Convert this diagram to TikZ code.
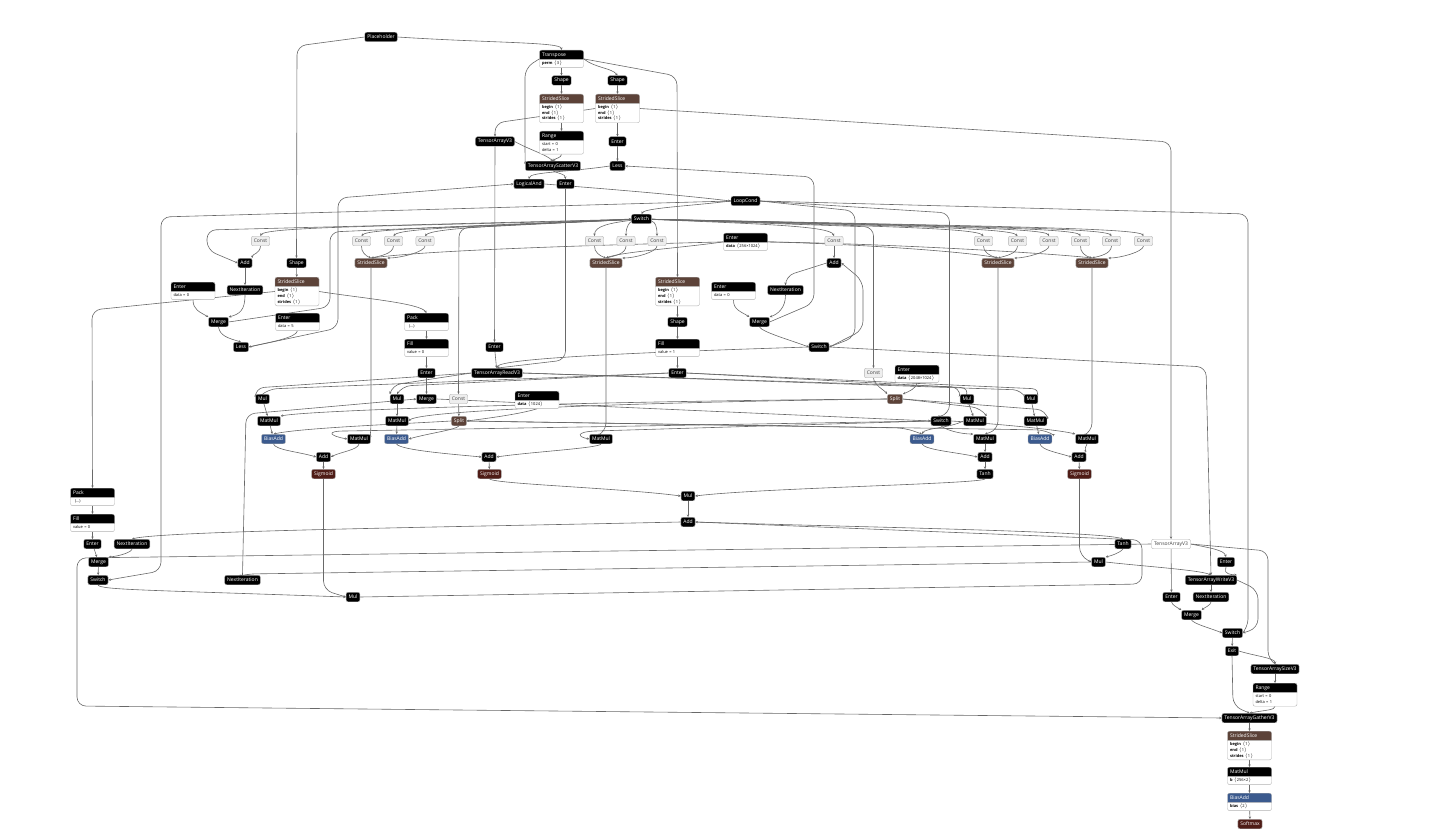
\documentclass[tikz,border=0pt]{standalone}
\usepackage{fontspec}
\setmainfont{Open Sans}
\usepackage{tikz}
\usetikzlibrary{shapes.multipart, arrows.meta, backgrounds}
\definecolor{mybrown}{RGB}{92,66,56}
\definecolor{myred}{RGB}{79,28,22}
\definecolor{myblue}{RGB}{59,90,142}
\definecolor{myconst}{RGB}{238,238,238}
\definecolor{myline}{RGB}{105,105,105}
\tikzstyle{opnode}=[draw=gray!60, line width=0.4pt, rounded corners=2pt, fill=black, text=white, font=\fontsize{5}{5}\selectfont, minimum height=9.5pt, inner xsep=2.5pt, inner ysep=0pt]
\tikzstyle{ssnode}=[opnode, fill=mybrown]
\tikzstyle{sgnode}=[opnode, fill=myred]
\tikzstyle{banode}=[opnode, fill=myblue]
\tikzstyle{constnode}=[opnode, fill=myconst, text=black!75]
\tikzstyle{tanode}=[opnode, fill=white, text=black!75]
\tikzstyle{optable}=[draw=gray!60, line width=0.4pt, rounded corners=2pt, rectangle split, rectangle split parts=2, rectangle split part fill={black,white}, anchor=north, text width=39pt, inner xsep=2.5pt, inner ysep=1pt, align=left, text=black, font=\fontsize{4}{5.6}\selectfont]
\tikzstyle{ssbox}=[optable, rectangle split part fill={mybrown,white}]
\tikzstyle{babox}=[optable, rectangle split part fill={myblue,white}]
\tikzstyle{edge}=[draw=myline, line width=0.6pt, -{Stealth[length=2.6pt,width=2.4pt]}]
\tikzstyle{route}=[edge, rounded corners=9pt]
\newcommand{\headtext}[1]{\textcolor{white}{\fontsize{5}{5}\selectfont\rule[-2pt]{0pt}{7pt}#1}}
\newcommand{\bodyline}[1]{\rule[-1.6pt]{0pt}{5.6pt}#1}
\newcommand{\keyval}[2]{\bodyline{\textbf{#1} $\scriptscriptstyle\langle$#2$\scriptscriptstyle\rangle$}}
\newcommand{\sliceattrs}{\keyval{begin}{1}\\\keyval{end}{1}\\\keyval{strides}{1}}
\begin{document}
\begin{tikzpicture}[x=1pt, y=-1pt]
\useasboundingbox (0, 0) rectangle (1439, 834);
\draw (381, 37) node [opnode] (ph) {Placeholder};
\draw (561.5, 50) node [optable] (tr) {\headtext{Transpose}\nodepart{two}\keyval{perm}{3}};
\draw (561.5, 80.5) node [opnode] (sh1) {Shape};
\draw (617.5, 80.5) node [opnode] (sh2) {Shape};
\draw (561.5, 94) node [ssbox] (ss1) {\headtext{StridedSlice}\nodepart{two}\sliceattrs};
\draw (617.5, 94) node [ssbox] (ss2) {\headtext{StridedSlice}\nodepart{two}\sliceattrs};
\draw (561.5, 131) node [optable] (rg1) {\headtext{Range}\nodepart{two}\bodyline{start = 0}\\\bodyline{delta = 1}};
\draw (617.5, 141.5) node [opnode] (en1) {Enter};
\draw (495, 141.5) node [opnode] (tav1) {TensorArrayV3};
\draw (553, 166) node [opnode] (tas) {TensorArrayScatterV3};
\draw (617.5, 166) node [opnode] (le1) {Less};
\draw (529, 184) node [opnode] (la) {LogicalAnd};
\draw (565.5, 184) node [opnode] (en2) {Enter};
\draw (745.5, 201) node [opnode] (lc) {LoopCond};
\draw (641.5, 219) node [opnode] (sw1) {Switch};
\draw (260.5, 241) node [constnode] (co1) {Const};
\draw (245, 263) node [opnode] (ad1) {Add};
\draw (296.5, 263) node [opnode] (sh3) {Shape};
\draw (297, 277) node [ssbox] (ss3) {\headtext{StridedSlice}\nodepart{two}\sliceattrs};
\draw (193, 282) node [optable] (en3) {\headtext{Enter}\nodepart{two}\bodyline{data = 0}};
\draw (245, 290) node [opnode] (ni1) {NextIteration};
\draw (218.5, 322) node [opnode] (mg1) {Merge};
\draw (297.5, 313) node [optable] (en4) {\headtext{Enter}\nodepart{two}\bodyline{data = 5}};
\draw (241, 347) node [opnode] (le2) {Less};
\draw (426.5, 313) node [optable] (pk1) {\headtext{Pack}\nodepart{two}\bodyline{\hspace{2pt}(...)}};
\draw (426.5, 339) node [optable] (fl1) {\headtext{Fill}\nodepart{two}\bodyline{value = 0}};
\draw (426.5, 373) node [opnode] (en5) {Enter};
\draw (494.5, 347) node [opnode] (en6) {Enter};
\draw (497, 373) node [opnode] (tar) {TensorArrayReadV3};
\draw (361.5, 241) node [constnode] (co2) {Const};
\draw (393.5, 241) node [constnode] (co3) {Const};
\draw (425, 241) node [constnode] (co4) {Const};
\draw (371, 263) node [ssnode] (sb1) {StridedSlice};
\draw (262.5, 399) node [opnode] (mu1) {Mul};
\draw (397, 399) node [opnode] (mu2) {Mul};
\draw (426.5, 399) node [opnode] (mg2) {Merge};
\draw (458.5, 399) node [constnode] (co5) {Const};
\draw (269, 421) node [opnode] (mm1) {MatMul};
\draw (397, 421) node [opnode] (mm2) {MatMul};
\draw (459, 421) node [ssnode] (sp1) {Split};
\draw (537, 391) node [optable] (en7) {\headtext{Enter}\nodepart{two}\keyval{data}{1024}};
\draw (273.5, 439) node [banode] (ba1) {BiasAdd};
\draw (359, 439) node [opnode] (mm3) {MatMul};
\draw (396.5, 439) node [banode] (ba2) {BiasAdd};
\draw (323.5, 457) node [opnode] (ad2) {Add};
\draw (489, 457) node [opnode] (ad3) {Add};
\draw (323.5, 474) node [sgnode] (sg1) {Sigmoid};
\draw (489.5, 474) node [sgnode] (sg2) {Sigmoid};
\draw (594.5, 241) node [constnode] (co6) {Const};
\draw (626, 241) node [constnode] (co7) {Const};
\draw (657, 241) node [constnode] (co8) {Const};
\draw (606, 263) node [ssnode] (sb2) {StridedSlice};
\draw (745.5, 233) node [optable] (en8) {\headtext{Enter}\nodepart{two}\keyval{data}{256×1024}};
\draw (834, 241) node [constnode] (co9) {Const};
\draw (834, 263) node [opnode] (ad4) {Add};
\draw (677.5, 277) node [ssbox] (ss4) {\headtext{StridedSlice}\nodepart{two}\sliceattrs};
\draw (733.5, 282) node [optable] (en9) {\headtext{Enter}\nodepart{two}\bodyline{data = 0}};
\draw (785.5, 290) node [opnode] (ni2) {NextIteration};
\draw (759.5, 322) node [opnode] (mg3) {Merge};
\draw (677.5, 322) node [opnode] (sh4) {Shape};
\draw (677.5, 339) node [optable] (fl2) {\headtext{Fill}\nodepart{two}\bodyline{value = 1}};
\draw (819, 347) node [opnode] (sw2) {Switch};
\draw (677.5, 373) node [opnode] (en10) {Enter};
\draw (983.5, 241) node [constnode] (co10) {Const};
\draw (1017.5, 241) node [constnode] (co11) {Const};
\draw (1049, 241) node [constnode] (co12) {Const};
\draw (1080.5, 241) node [constnode] (co13) {Const};
\draw (1111.5, 241) node [constnode] (co14) {Const};
\draw (1143.5, 241) node [constnode] (co15) {Const};
\draw (998, 263) node [ssnode] (sb3) {StridedSlice};
\draw (1092, 263) node [ssnode] (sb4) {StridedSlice};
\draw (873.5, 373) node [constnode] (co16) {Const};
\draw (917, 365) node [optable] (en11) {\headtext{Enter}\nodepart{two}\keyval{data}{2048×1024}};
\draw (895, 399) node [ssnode] (sp2) {Split};
\draw (967, 399) node [opnode] (mu3) {Mul};
\draw (1031, 399) node [opnode] (mu4) {Mul};
\draw (941, 421) node [opnode] (sw3) {Switch};
\draw (975, 421) node [opnode] (mm4) {MatMul};
\draw (1035.5, 421) node [opnode] (mm5) {MatMul};
\draw (601, 439) node [opnode] (mm8) {MatMul};
\draw (922, 439) node [banode] (ba3) {BiasAdd};
\draw (985, 439) node [opnode] (mm6) {MatMul};
\draw (1040, 439) node [banode] (ba4) {BiasAdd};
\draw (1087, 439) node [opnode] (mm7) {MatMul};
\draw (985, 457) node [opnode] (ad5) {Add};
\draw (1079, 457) node [opnode] (ad6) {Add};
\draw (985, 474) node [opnode] (th1) {Tanh};
\draw (1079.5, 474) node [sgnode] (sg3) {Sigmoid};
\draw (688, 496) node [opnode] (mu5) {Mul};
\draw (688, 522) node [opnode] (ad7) {Add};
\draw (92.5, 488) node [optable] (pk2) {\headtext{Pack}\nodepart{two}\bodyline{\hspace{2pt}(...)}};
\draw (92.5, 514) node [optable] (fl3) {\headtext{Fill}\nodepart{two}\bodyline{value = 0}};
\draw (92.5, 544) node [opnode] (en12) {Enter};
\draw (132, 544) node [opnode] (ni3) {NextIteration};
\draw (98.5, 562) node [opnode] (mg4) {Merge};
\draw (98, 580) node [opnode] (sw4) {Switch};
\draw (242.5, 580) node [opnode] (ni4) {NextIteration};
\draw (353, 597) node [opnode] (mu6) {Mul};
\draw (1123, 544) node [opnode] (th2) {Tanh};
\draw (1171, 544) node [tanode] (tav2) {TensorArrayV3};
\draw (1098.5, 562) node [opnode] (mu7) {Mul};
\draw (1226, 562) node [opnode] (en13) {Enter};
\draw (1211, 580) node [opnode] (taw) {TensorArrayWriteV3};
\draw (1171.5, 597) node [opnode] (en14) {Enter};
\draw (1211, 597) node [opnode] (ni5) {NextIteration};
\draw (1191.5, 615) node [opnode] (mg5) {Merge};
\draw (1232.5, 633) node [opnode] (sw5) {Switch};
\draw (1232, 651) node [opnode] (ex) {Exit};
\draw (1275, 669) node [opnode] (tsz) {TensorArraySizeV3};
\draw (1275, 683) node [optable] (rg2) {\headtext{Range}\nodepart{two}\bodyline{start = 0}\\\bodyline{delta = 1}};
\draw (1249.5, 718) node [opnode] (tag) {TensorArrayGatherV3};
\draw (1249.5, 731) node [ssbox] (ss5) {\headtext{StridedSlice}\nodepart{two}\sliceattrs};
\draw (1249.5, 767) node [optable] (mm9) {\headtext{MatMul}\nodepart{two}\keyval{b}{256×2}};
\draw (1249.5, 793) node [babox] (ba5) {\headtext{BiasAdd}\nodepart{two}\keyval{bias}{2}};
\draw (1250, 824) node [sgnode] (sm) {Softmax};
\begin{scope}[on background layer]
\draw [edge] (ph.east) .. controls (490, 43) and (561, 42) .. (tr.north);
\draw [route] (ph.west) -- (297, 46) -- (sh3.north);
\draw [edge] (tr) -- (sh1);
\draw [edge] (tr.east) .. controls (595, 68) and (612, 68) .. (sh2.north);
\draw [route] (tr.west) -- (525, 68) -- (525, 155) -- (tas.north west);
\draw [route] (tr.east) -- (677, 76) -- (ss4.north);
\draw [edge] (sh1) -- (ss1);
\draw [edge] (sh2) -- (ss2);
\draw [edge] (ss1) -- (rg1);
\draw [edge] (rg1.south) .. controls (561, 158) and (556, 158) .. (tas.north);
\draw [route] (ss2.west) -- (495, 123) -- (tav1.north);
\draw [route] (ss2.east) -- (1171, 142) -- (tav2.north);
\draw [edge] (ss2) -- (en1);
\draw [edge] (en1) -- (le1);
\draw [edge] (tav1.east) .. controls (530, 150) and (545, 154) .. (tas.north);
\draw [edge] (tav1) -- (en6);
\draw [edge] (tas.south) .. controls (560, 174) and (565, 174) .. (en2.north);
\draw [edge] (le1.west) .. controls (570, 172) and (530, 172) .. (la.north);
\draw [route] (mg3.east) -- (814, 303) -- (814, 177) -- (le1.east);
\draw [route] (le2.east) -- (338, 328) -- (338, 198) -- (la.west);
\draw [edge] (la.east) .. controls (620, 190) and (680, 195) .. (lc.west);
\draw [route] (en2.south) -- (565.5, 360) -- (tar.north);
\draw [edge] (lc.west) .. controls (690, 206) and (645, 208) .. (sw1.north);
\draw [route] (lc.east) -- (855, 211) -- (855, 337) -- (sw2.east);
\draw [route] (lc.east) -- (949.5, 213) -- (949.5, 414) -- (sw3.north);
\draw [route] (lc.east) -- (1248, 214) -- (1248, 628) -- (sw5.east);
\draw [route] (lc.west) -- (161, 217) -- (161, 571) -- (sw4.east);
\draw [edge] (sw1) .. controls (430, 226) and (265, 226) .. (co1.north);
\draw [route] (sw1) -- (207, 230) -- (207, 250) -- (ad1.west);
\draw [route] (mg1.east) -- (330, 307) -- (330, 232) -- (sw1.west);
\draw [edge] (sw1) .. controls (480, 227) and (368, 228) .. (co2.north);
\draw [edge] (sw1) .. controls (490, 226) and (400, 228) .. (co3.north);
\draw [edge] (sw1) .. controls (510, 225) and (432, 228) .. (co4.north);
\draw [route] (sw1) -- (459, 228) -- (co5.north);
\draw [edge] (sw1) .. controls (610, 223) and (594.5, 226) .. (co6.north);
\draw [edge] (sw1) .. controls (630, 222) and (626, 226) .. (co7.north);
\draw [edge] (sw1) .. controls (655, 222) and (657, 226) .. (co8.north);
\draw [edge] (sw1) .. controls (760, 224) and (830, 226) .. (co9.north);
\draw [route] (sw1) -- (873.5, 227) -- (co16.north);
\draw [edge] (sw1) .. controls (880, 226.5) and (975, 228) .. (co10.north);
\draw [edge] (sw1) .. controls (900, 226) and (1010, 228) .. (co11.north);
\draw [edge] (sw1) .. controls (920, 226) and (1045, 228) .. (co12.north);
\draw [edge] (sw1) .. controls (940, 226) and (1075, 228) .. (co13.north);
\draw [edge] (sw1) .. controls (960, 226) and (1105, 228) .. (co14.north);
\draw [edge] (sw1) .. controls (980, 226) and (1138, 228) .. (co15.north);
\draw [edge] (co1.south) .. controls (260, 254) and (252, 254) .. (ad1.north east);
\draw [edge] (ad1) -- (ni1);
\draw [edge] (ni1.south) .. controls (245, 310) and (240, 314) .. (mg1.north east);
\draw [edge] (en3.south) .. controls (193, 310) and (200, 312) .. (mg1.north west);
\draw [edge] (mg1.south) .. controls (220, 336) and (228, 338) .. (le2.north);
\draw [edge] (en4.south) .. controls (296, 338) and (270, 342) .. (le2.east);
\draw [edge] (sh3) -- (ss3);
\draw [edge] (ss3.east) .. controls (360, 298) and (420, 303) .. (pk1.north);
\draw [route] (ss3.west) -- (92, 310) -- (pk2.north);
\draw [edge] (pk1) -- (fl1);
\draw [edge] (fl1) -- (en5);
\draw [edge] (en5) -- (mg2);
\draw [edge] (en6) -- (tar);
\draw [edge] (sh4) -- (fl2);
\draw [edge] (ss4) -- (sh4);
\draw [edge] (fl2) -- (en10);
\draw [route] (ni4.north) -- (246, 414) -- (mg2.west);
\draw [edge] (mg2.east) -- (sw3.west);
\draw [edge] (co5) -- (sp1);
\draw [edge] (sw2.west) .. controls (650, 352) and (500, 358) .. (tar.north);
\draw [route] (sw2.east) -- (1206, 367) -- (taw.north);
\draw [route] (ad4.west) -- (785.5, 276) -- (ni2.north);
\draw [edge] (ni2.south) .. controls (785.5, 308) and (778, 314) .. (mg3.north east);
\draw [edge] (en9.south) .. controls (733, 310) and (742, 312) .. (mg3.north west);
\draw [edge] (mg3.south) .. controls (762, 332) and (790, 340) .. (sw2.west);
\draw [route] (sw2.east) -- (863, 330) -- (863, 281) -- (ad4.east);
\draw [edge] (co9) -- (ad4);
\draw [edge] (en8.west) .. controls (600, 245) and (430, 250) .. (sb1.north);
\draw [edge] (en8.west) .. controls (680, 248) and (620, 252) .. (sb2.north);
\draw [edge] (en8.east) .. controls (860, 244) and (970, 252) .. (sb3.north);
\draw [edge] (en8.east) .. controls (900, 244) and (1060, 254) .. (sb4.north);
\draw [edge] (co2.south) .. controls (361, 252) and (366, 256) .. (sb1.north);
\draw [edge] (co3.south) .. controls (393, 254) and (380, 256) .. (sb1.north);
\draw [edge] (co4.south) .. controls (425, 252) and (400, 258) .. (sb1.north east);
\draw [edge] (co6.south) .. controls (594, 252) and (600, 256) .. (sb2.north);
\draw [edge] (co7.south) .. controls (626, 254) and (614, 256) .. (sb2.north);
\draw [edge] (co8.south) .. controls (657, 252) and (635, 258) .. (sb2.north east);
\draw [edge] (co10.south) .. controls (983, 252) and (990, 256) .. (sb3.north);
\draw [edge] (co11.south) .. controls (1017, 254) and (1005, 256) .. (sb3.north);
\draw [edge] (co12.south) .. controls (1049, 252) and (1025, 258) .. (sb3.north east);
\draw [edge] (co13.south) .. controls (1080, 252) and (1085, 256) .. (sb4.north);
\draw [edge] (co14.south) .. controls (1111, 254) and (1100, 256) .. (sb4.north);
\draw [edge] (co15.south) .. controls (1143, 252) and (1120, 258) .. (sb4.north east);
\draw [route] (sb1.south) -- (371, 432) -- (mm3.north east);
\draw [route] (sb2.south) -- (606, 432) -- (mm8.north);
\draw [route] (sb3.south) -- (998, 430) -- (mm6.north);
\draw [route] (sb4.south) -- (1092, 432) -- (mm7.north);
\draw [route] (tar.west) -- (255, 388) -- (mu1.north west);
\draw [route] (tar.west) -- (392, 385) -- (mu2.north west);
\draw [route] (tar.east) -- (960, 387) -- (mu3.north west);
\draw [route] (tar.east) -- (1022, 390) -- (mu4.north west);
\draw [route] (en10.west) -- (268, 389) -- (mu1.north);
\draw [route] (en10.west) -- (402, 386) -- (mu2.north);
\draw [route] (en10.east) -- (970, 388) -- (mu3.north);
\draw [route] (en10.east) -- (1041, 389) -- (mu4.north east);
\draw [edge] (mu1) -- (mm1);
\draw [edge] (mu2) -- (mm2);
\draw [edge] (mu3) -- (mm4);
\draw [edge] (mu4) -- (mm5);
\draw [edge] (mm1) -- (ba1);
\draw [edge] (mm2) -- (ba2);
\draw [edge] (mm5) -- (ba4);
\draw [edge] (mm4.west) .. controls (950, 428) and (925, 428) .. (ba3.north);
\draw [edge] (en7.south) .. controls (520, 414) and (490, 418) .. (sp1.east);
\draw [edge] (sp1.south) .. controls (455, 430) and (430, 433) .. (ba2.east);
\draw [edge] (sp1.west) .. controls (400, 424) and (300, 428) .. (ba1.north);
\draw [edge] (sp2.west) .. controls (600, 401) and (310, 410) .. (mm1.north east);
\draw [edge] (sp2.west) .. controls (650, 402) and (420, 410) .. (mm2.east);
\draw [route] (sp2.east) -- (981, 408) -- (mm4.north east);
\draw [route] (sp2.east) -- (1046, 410) -- (mm5.north east);
\draw [edge] (co16.south) .. controls (874, 385) and (884, 390) .. (sp2.north west);
\draw [edge] (en11.south) .. controls (917, 388) and (908, 392) .. (sp2.north east);
\draw [route] (sp1.east) -- (905, 428) -- (ba3.north);
\draw [route] (sp1.east) -- (1046, 430) -- (ba4.north east);
\draw [edge] (sw3.west) -- (345, 431) .. controls (325, 431) and (330, 436) .. (mm3.west);
\draw [edge] (sw3.west) -- (595, 431) .. controls (575, 432) and (578, 437) .. (mm8.west);
\draw [edge] (sw3.south) .. controls (946, 430) and (960, 434) .. (mm6.north west);
\draw [edge] (sw3.east) .. controls (1000, 424) and (1060, 430) .. (mm7.north west);
\draw [edge] (ba1.south) .. controls (275, 450) and (300, 452) .. (ad2.west);
\draw [edge] (mm3.south) .. controls (358, 450) and (340, 452) .. (ad2.east);
\draw [edge] (ba2.south) .. controls (400, 450) and (450, 454) .. (ad3.west);
\draw [edge] (mm8.south) .. controls (600, 448) and (530, 452) .. (ad3.east);
\draw [edge] (ba3.south) .. controls (925, 450) and (955, 452) .. (ad5.west);
\draw [edge] (mm6) -- (ad5);
\draw [edge] (ba4.south) .. controls (1042, 450) and (1055, 452) .. (ad6.west);
\draw [edge] (mm7.south) .. controls (1086, 447) and (1084, 449) .. (ad6.north east);
\draw [edge] (ad2) -- (sg1);
\draw [edge] (ad3) -- (sg2);
\draw [edge] (ad5) -- (th1);
\draw [edge] (ad6) -- (sg3);
\draw [edge] (sg2.south) .. controls (495, 484) and (620, 488) .. (mu5.west);
\draw [edge] (th1.south) .. controls (980, 484) and (760, 488) .. (mu5.east);
\draw [edge] (mu5) -- (ad7);
\draw [route] (sg1.south) -- (323.5, 590) -- (mu6.west);
\draw [route] (sg3.south) -- (1079.5, 556) -- (mu7.west);
\draw [route] (mu6.east) -- (1142, 584) -- (1142, 540) -- (ad7.east);
\draw [edge] (ad7.west) .. controls (450, 527) and (160, 531) .. (ni3.north);
\draw [edge] (ad7.east) .. controls (850, 527) and (1100, 531) .. (th2.north);
\draw [edge] (th2.south) .. controls (1120, 553) and (1110, 556) .. (mu7.north east);
\draw [edge] (pk2) -- (fl3);
\draw [edge] (fl3) -- (en12);
\draw [edge] (en12) -- (mg4);
\draw [edge] (ni3.south) .. controls (132, 552) and (120, 556) .. (mg4.north east);
\draw [edge] (mg4) -- (sw4);
\draw [edge] (sw4.south) .. controls (100, 590) and (150, 590) .. (mu6.west);
\draw [route] (tav2.west) -- (77, 558) -- (77, 706) -- (tag.west);
\draw [edge] (mu7.east) .. controls (1140, 566) and (1200, 570) .. (taw.north);
\draw [route] (mu7.west) -- (246, 574) -- (ni4.north);
\draw [edge] (tav2) -- (en14);
\draw [edge] (tav2.east) .. controls (1210, 548) and (1224, 550) .. (en13.north);
\draw [route] (tav2.east) -- (1268, 551) -- (1268, 660) -- (tsz.north);
\draw [edge] (en13.south) .. controls (1226, 570) and (1222, 574) .. (taw.north east);
\draw [edge] (taw) -- (ni5);
\draw [edge] (en14.south) .. controls (1172, 605) and (1178, 608) .. (mg5.north west);
\draw [edge] (ni5.south) .. controls (1211, 605) and (1204, 608) .. (mg5.north east);
\draw [edge] (mg5.south) .. controls (1194, 624) and (1210, 628) .. (sw5.west);
\draw [route] (taw.east) -- (1258, 590) -- (1258, 628) -- (sw5.east);
\draw [edge] (sw5) -- (ex);
\draw [route] (ex.south) -- (1233, 706) -- (tag.north);
\draw [edge] (ex.east) .. controls (1255, 656) and (1275, 658) .. (tsz.north);
\draw [edge] (tsz) -- (rg2);
\draw [edge] (rg2.south) .. controls (1275, 710) and (1266, 710) .. (tag.north);
\draw [edge] (tag) -- (ss5);
\draw [edge] (ss5) -- (mm9);
\draw [edge] (mm9) -- (ba5);
\draw [edge] (ba5) -- (sm);
\end{scope}
\end{tikzpicture}
\end{document}
